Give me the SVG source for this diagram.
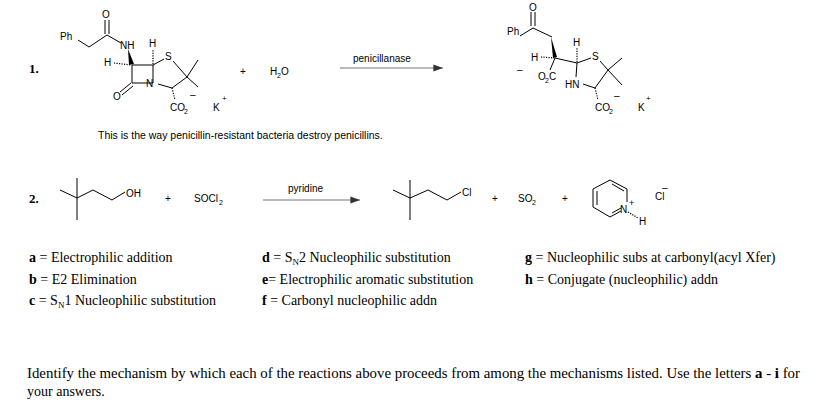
<svg xmlns="http://www.w3.org/2000/svg" width="817" height="409" viewBox="0 0 817 409">
<defs>
<style>
.b{stroke:#000;stroke-width:1;fill:none}
.h{stroke:#000;stroke-width:1.2;stroke-dasharray:1.2 1.3;fill:none}
.c{font-family:"Liberation Sans",Arial,sans-serif;font-size:10px;fill:#000}
.s{font-family:"Liberation Serif","Times New Roman",serif;font-size:14px;fill:#000}
.n{font-family:"Liberation Serif","Times New Roman",serif;font-size:13px;font-weight:bold}
.arr{stroke:#777;stroke-width:1.2}
</style>
<marker id="ah" markerWidth="8" markerHeight="6" refX="8" refY="3" orient="auto"><path d="M0,0 L8,3 L0,6 Z" fill="#333"/></marker>
</defs>
<rect width="817" height="409" fill="#fff"/>
<g id="labels">
<text class="n" x="29" y="73">1.</text>
<text class="n" x="29" y="203">2.</text>
</g>
<g id="penicillin">
<text class="c" x="60" y="40">Ph</text>
<path class="b" d="M78,40 L89,47 L107,35 M105,34 L105,20 M109,34 L109,20 M107,35 L121,43"/>
<text class="c" x="102" y="18">O</text>
<text class="c" x="120" y="49">NH</text>
<path d="M128,49 L129,65 L134,64 Z" fill="#000"/>
<path class="b" d="M132,65 L153,65 L153,83 L148,83 M132,65 L132,83 L148,83 M131,83 L120,92 M133,86 L122,95"/>
<text class="c" x="113" y="100">O</text>
<text class="c" x="146" y="87">N</text>
<text class="c" x="104" y="66">H</text>
<path class="h" d="M114,63 L131,65"/>
<path class="h" d="M153,64 L153,50"/>
<text class="c" x="149" y="47">H</text>
<path class="b" d="M153,65 L164,59 M173,61 L187,77 L198,60 M187,77 L198,87 M187,77 L172,88 L158,84"/>
<text class="c" x="165" y="60">S</text>
<path class="h" d="M172,88 L175,100"/>
<text class="c" x="170" y="111">CO</text><text class="c" x="184" y="114" style="font-size:7px">2</text>
<text class="c" x="190" y="98">–</text>
<text class="c" x="213" y="111">K</text><text class="c" x="222" y="101" style="font-size:8px">+</text>
<text class="c" x="240" y="75">+</text>
<text class="c" x="270" y="75">H</text><text class="c" x="277" y="78" style="font-size:7px">2</text><text class="c" x="281" y="75">O</text>
</g>
<g id="arrow1">
<line class="arr" x1="340" y1="68" x2="443" y2="68" marker-end="url(#ah)"/>
<text class="c" x="353" y="62">penicillanase</text>
</g>
<g id="product1">
<text class="c" x="507" y="35">Ph</text>
<path class="b" d="M520,36 L533,28 L552,37 M531,26 L531,12 M535,26 L535,12"/>
<text class="c" x="529" y="11">O</text>
<path d="M551,37 L553,58 L557,57 Z" fill="#000"/>
<path class="h" d="M541,57 L555,58"/>
<text class="c" x="531" y="61">H</text>
<path class="b" d="M555,58 L550,70 M555,58 L577,63 L591,58 M600,61 L608,70 L622,58 M608,70 L622,85 M608,70 L595,88 L583,84 M577,63 L576,77"/>
<text class="c" x="592" y="60">S</text>
<text class="c" x="538" y="80">O</text><text class="c" x="545" y="83" style="font-size:7px">2</text><text class="c" x="549" y="80">C</text>
<text class="c" x="517" y="73">–</text>
<path class="h" d="M577,62 L577,48"/>
<text class="c" x="573" y="46">H</text>
<text class="c" x="565" y="88">HN</text>
<path class="h" d="M595,88 L598,100"/>
<text class="c" x="595" y="111">CO</text><text class="c" x="609" y="114" style="font-size:7px">2</text>
<text class="c" x="614" y="99">–</text>
<text class="c" x="638" y="111">K</text><text class="c" x="646" y="101" style="font-size:8px">+</text>
</g>
<text class="c" x="98" y="139" style="font-size:10.5px">This is the way penicillin-resistant bacteria destroy penicillins.</text>
<g id="alcohol">
<path class="b" d="M60,190 L77,198 L93,190 L112,200 L125,192 M77,178 L77,220"/>
<text class="c" x="126" y="197">OH</text>
<text class="c" x="165" y="202">+</text>
<text class="c" x="194" y="202">SOCl</text><text class="c" x="219" y="205" style="font-size:7px">2</text>
</g>
<g id="arrow2">
<line class="arr" x1="263" y1="200" x2="360" y2="200" marker-end="url(#ah)"/>
<text class="c" x="288" y="192">pyridine</text>
</g>
<g id="chloride">
<path class="b" d="M393,190 L410,198 L428,190 L447,200 L461,192 M410,180 L410,220"/>
<text class="c" x="462" y="196">Cl</text>
<text class="c" x="492" y="202">+</text>
<text class="c" x="518" y="202">SO</text><text class="c" x="532" y="205" style="font-size:7px">2</text>
<text class="c" x="562" y="202">+</text>
</g>
<g id="pyridinium">
<path class="b" d="M610,180 L627,189 L627,202 M621,211 L610,217 L593,207 L593,189 L610,180 M612,184 L624,191 M597,191 L597,205 M612,213 L621,208"/>
<text class="c" x="620" y="213">N</text>
<text class="c" x="629" y="206" style="font-size:9px">+</text>
<path class="h" d="M628,212 L638,218"/>
<text class="c" x="639" y="225">H</text>
<text class="c" x="655" y="200">Cl</text>
<text class="c" x="662" y="191">–</text>
</g>
<g id="mechanisms">
<text class="s" x="29" y="262"><tspan font-weight="bold">a</tspan> = Electrophilic addition</text>
<text class="s" x="29" y="284"><tspan font-weight="bold">b</tspan> = E2 Elimination</text>
<text class="s" x="29" y="305"><tspan font-weight="bold">c</tspan> = S<tspan font-size="9" dy="3">N</tspan><tspan dy="-3">1 Nucleophilic substitution</tspan></text>
<text class="s" x="262" y="262"><tspan font-weight="bold">d</tspan> = S<tspan font-size="9" dy="3">N</tspan><tspan dy="-3">2 Nucleophilic substitution</tspan></text>
<text class="s" x="262" y="284"><tspan font-weight="bold">e</tspan>= Electrophilic aromatic substitution</text>
<text class="s" x="262" y="305"><tspan font-weight="bold">f</tspan> = Carbonyl nucleophilic addn</text>
<text class="s" x="525" y="262"><tspan font-weight="bold">g</tspan> = Nucleophilic subs at carbonyl(acyl Xfer)</text>
<text class="s" x="525" y="284"><tspan font-weight="bold">h</tspan> = Conjugate (nucleophilic) addn</text>
</g>
<text class="s" x="27" y="378" textLength="773" lengthAdjust="spacingAndGlyphs">Identify the mechanism by which each of the reactions above proceeds from among the mechanisms listed. Use the letters <tspan font-weight="bold">a</tspan> - <tspan font-weight="bold">i</tspan> for</text>
<text class="s" x="27" y="396">your answers.</text>
</svg>
